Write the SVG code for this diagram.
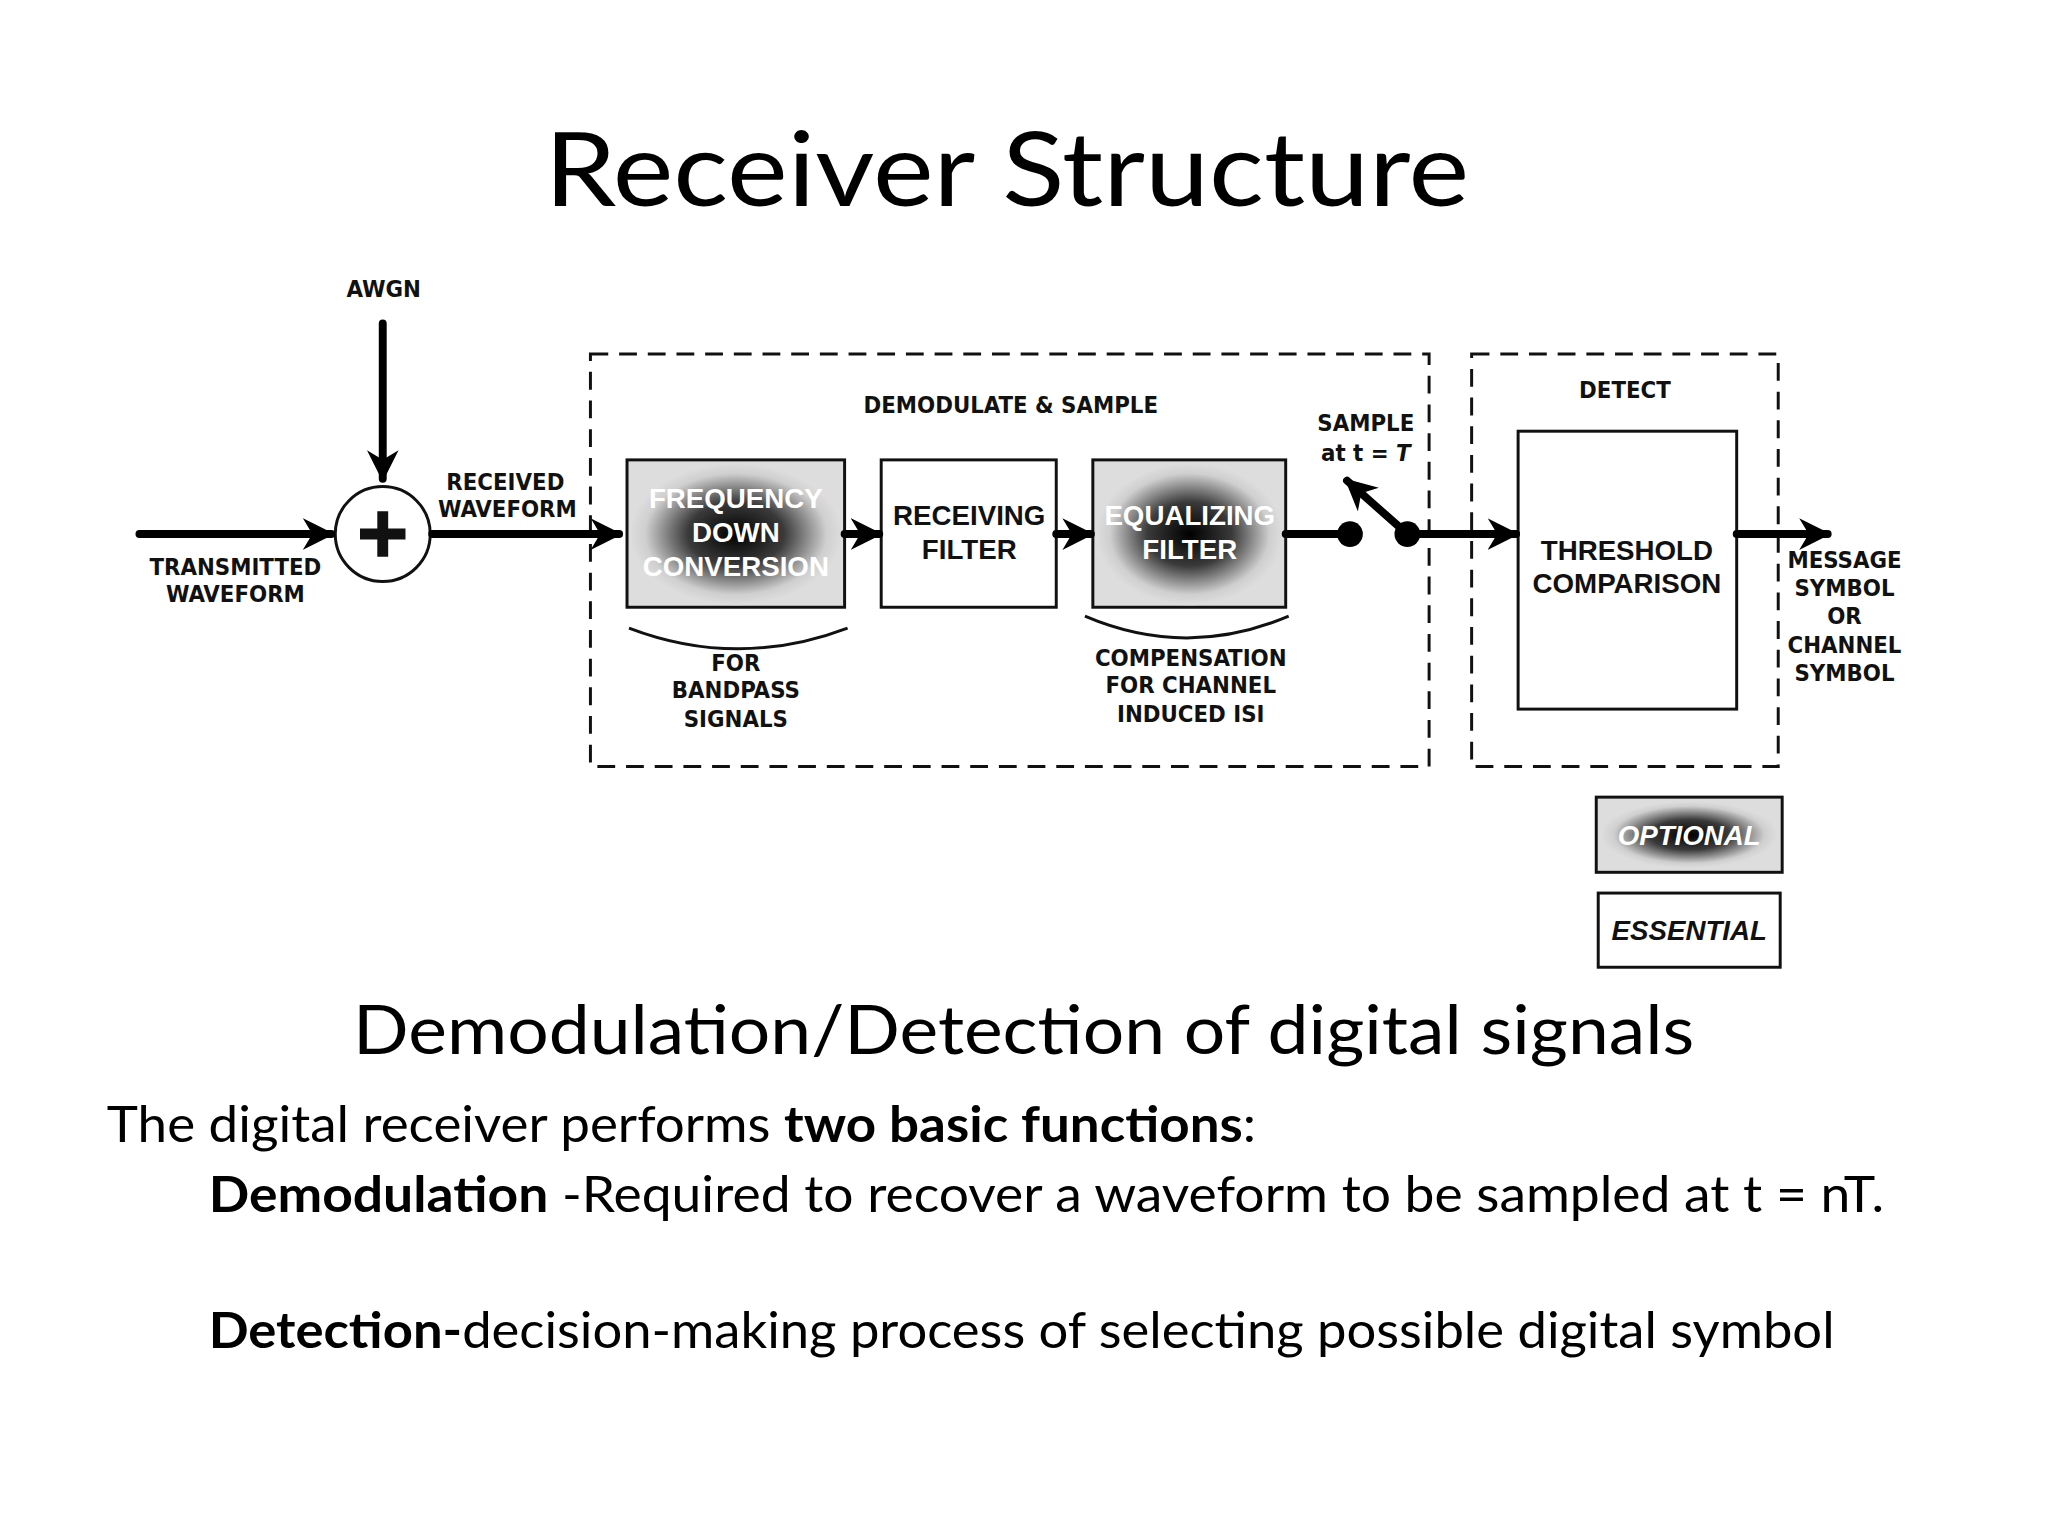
<svg xmlns="http://www.w3.org/2000/svg" width="2048" height="1536" viewBox="0 0 2048 1536">
<defs>
<radialGradient id="g" cx="0.5" cy="0.5" r="0.5">
<stop offset="0" stop-color="#000"/><stop offset="0.45" stop-color="#3a3a3a"/><stop offset="0.85" stop-color="#cfcfcf"/><stop offset="1" stop-color="#dedede"/>
</radialGradient>
<marker id="ah" viewBox="0 0 10 10" refX="9" refY="5" markerWidth="4" markerHeight="4" orient="auto" markerUnits="strokeWidth"><path d="M0,0 L10,5 L0,10 L3,5 Z" fill="#000"/></marker>
<style>
.d{font-family:"DejaVu Sans Condensed","DejaVu Sans",sans-serif;font-weight:bold;font-size:24px;fill:#111;text-anchor:middle}
.w{font-family:"Liberation Sans",Arial,sans-serif;font-weight:bold;font-size:28px;text-anchor:middle}
.box{stroke:#111;stroke-width:3;fill:#fff}
.gb{stroke:#111;stroke-width:3;fill:#ddd}
.dash{fill:none;stroke:#111;stroke-width:3;stroke-dasharray:18 11}
.ln{stroke:#000;stroke-width:8;fill:none;stroke-linecap:round}
.c{font-family:Lato,"Open Sans",sans-serif;fill:#000}
</style>
</defs>
<rect width="2048" height="1536" fill="#fff"/>
<g transform="scale(0.989)">
<text class="c" x="1018" y="208" font-size="104" text-anchor="middle" textLength="935" lengthAdjust="spacingAndGlyphs">Receiver Structure</text>

<g id="groups">
<rect class="dash" x="597" y="358" width="848" height="417"/>
<rect class="dash" x="1488" y="358" width="310" height="417"/>
<text class="d" x="1022" y="418">DEMODULATE &amp; SAMPLE</text>
<text class="d" x="1643" y="402">DETECT</text>
</g>

<g id="sum">
<circle cx="387" cy="540" r="48" fill="#fff" stroke="#111" stroke-width="3"/>
<path d="M387 517 V563 M364 540 H410" stroke="#111" stroke-width="11"/>
</g>
<g id="fdc">
<rect class="gb" x="634" y="465" width="220" height="149"/>
<ellipse cx="744" cy="540" rx="108" ry="72" fill="url(#g)"/>
<text class="w" fill="#fff" x="744" y="514">FREQUENCY</text>
<text class="w" fill="#fff" x="744" y="548">DOWN</text>
<text class="w" fill="#fff" x="744" y="582">CONVERSION</text>
</g>
<g id="rf">
<rect class="box" x="891" y="465" width="177" height="149"/>
<text class="w" fill="#111" x="980" y="531">RECEIVING</text>
<text class="w" fill="#111" x="980" y="565">FILTER</text>
</g>
<g id="eq">
<rect class="gb" x="1105" y="465" width="195" height="149"/>
<ellipse cx="1203" cy="540" rx="95" ry="72" fill="url(#g)"/>
<text class="w" fill="#fff" x="1203" y="531">EQUALIZING</text>
<text class="w" fill="#fff" x="1203" y="565">FILTER</text>
</g>
<g id="th">
<rect class="box" x="1535" y="436" width="221" height="281"/>
<text class="w" fill="#111" x="1645" y="566">THRESHOLD</text>
<text class="w" fill="#111" x="1645" y="600">COMPARISON</text>
</g>
<g id="legend">
<rect class="gb" x="1614" y="806" width="188" height="76"/>
<ellipse cx="1708" cy="844" rx="90" ry="34" fill="url(#g)"/>
<text class="w" fill="#fff" font-style="italic" x="1708" y="854">OPTIONAL</text>
<rect class="box" x="1616" y="903" width="184" height="75"/>
<text class="w" fill="#111" font-style="italic" x="1708" y="950">ESSENTIAL</text>
</g>

<g id="connectors">
<line class="ln" x1="387" y1="327" x2="387" y2="484" marker-end="url(#ah)"/>
<line class="ln" x1="141" y1="540" x2="335" y2="540" marker-end="url(#ah)"/>
<line class="ln" x1="437" y1="540" x2="626" y2="540" marker-end="url(#ah)"/>
<line class="ln" x1="854" y1="540" x2="889" y2="540" marker-end="url(#ah)"/>
<line class="ln" x1="1068" y1="540" x2="1103" y2="540" marker-end="url(#ah)"/>
<line class="ln" x1="1300" y1="540" x2="1365" y2="540"/>
<circle cx="1365" cy="540" r="13" fill="#000"/>
<circle cx="1423" cy="540" r="13" fill="#000"/>
<line class="ln" x1="1423" y1="540" x2="1362" y2="486" stroke-width="7" marker-end="url(#ah)"/>
<line class="ln" x1="1423" y1="540" x2="1533" y2="540" marker-end="url(#ah)"/>
<line class="ln" x1="1756" y1="540" x2="1848" y2="540" marker-end="url(#ah)"/>
<path d="M636 635 Q746 677 857 635" fill="none" stroke="#111" stroke-width="3"/>
<path d="M1097 623 Q1200 667 1303 623" fill="none" stroke="#111" stroke-width="3"/>
</g>

<g id="labels">
<text class="d" x="388" y="300">AWGN</text>
<text class="d" x="238" y="581">TRANSMITTED</text>
<text class="d" x="238" y="609">WAVEFORM</text>
<text class="d" x="511" y="495">RECEIVED</text>
<text class="d" x="513" y="523">WAVEFORM</text>
<text class="d" x="1381" y="436">SAMPLE</text>
<text class="d" x="1381" y="466">at t = <tspan font-style="italic">T</tspan></text>
<text class="d" x="744" y="678">FOR</text>
<text class="d" x="744" y="706">BANDPASS</text>
<text class="d" x="744" y="735">SIGNALS</text>
<text class="d" x="1204" y="673">COMPENSATION</text>
<text class="d" x="1204" y="701">FOR CHANNEL</text>
<text class="d" x="1204" y="730">INDUCED ISI</text>
<text class="d" x="1865" y="574">MESSAGE</text>
<text class="d" x="1865" y="603">SYMBOL</text>
<text class="d" x="1865" y="631">OR</text>
<text class="d" x="1865" y="660">CHANNEL</text>
<text class="d" x="1865" y="689">SYMBOL</text>
</g>

<text class="c" x="1035" y="1066" font-size="68" text-anchor="middle" textLength="1356" lengthAdjust="spacingAndGlyphs">Demodulation/Detection of digital signals</text>
<text class="c" x="108" y="1155" font-size="50" textLength="1162" lengthAdjust="spacingAndGlyphs">The digital receiver performs <tspan font-weight="bold">two basic functions</tspan>:</text>
<text class="c" x="211" y="1225" font-size="50" textLength="1694" lengthAdjust="spacingAndGlyphs"><tspan font-weight="bold">Demodulation</tspan> -Required to recover a waveform to be sampled at t = nT.</text>
<text class="c" x="211" y="1363" font-size="50" textLength="1644" lengthAdjust="spacingAndGlyphs"><tspan font-weight="bold">Detection-</tspan>decision-making process of selecting possible digital symbol</text>
</g>
</svg>
